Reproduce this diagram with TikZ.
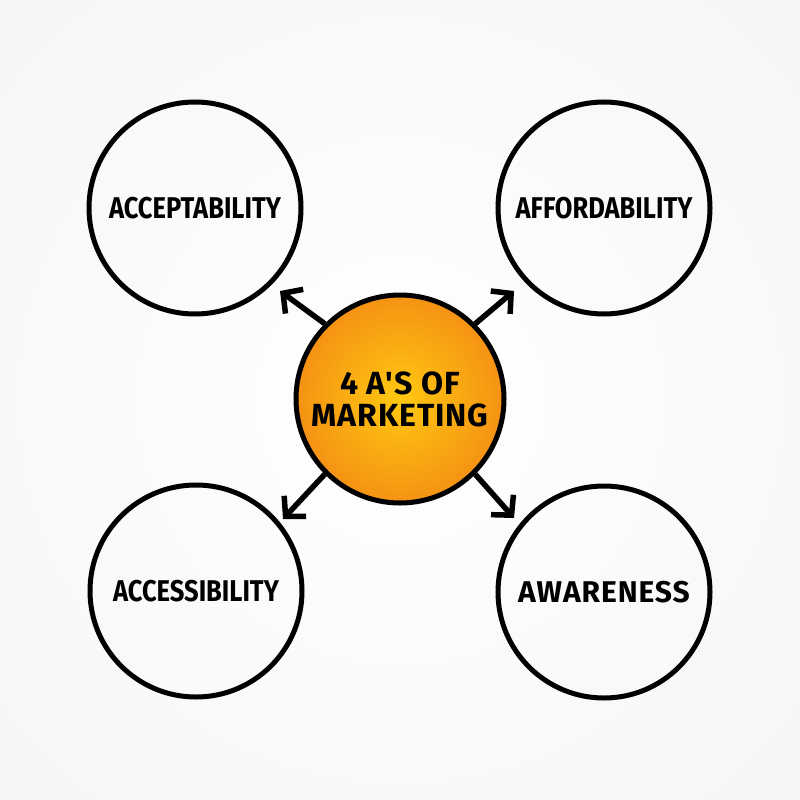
\documentclass[tikz,border=0pt]{standalone}
\usepackage{fontspec}
\newfontfamily\handfont{Fira Sans}[FakeStretch=0.85]
\newfontfamily\handwide{Fira Sans}[LetterSpace=3]
\usetikzlibrary{arrows.meta,positioning}

\definecolor{mkouter}{RGB}{245,146,20}
\definecolor{mkinner}{RGB}{255,200,16}
\definecolor{bgedge}{RGB}{236,236,236}

\tikzset{
    acircle/.style={circle, draw=black, line width=5pt, minimum size=212pt,
        font=\handfont\bfseries\fontsize{30}{34}\selectfont},
    mkcircle/.style={circle, draw=black, line width=5pt, minimum size=208pt,
        inner color=mkinner, outer color=mkouter, align=center,
        font=\handwide\bfseries\fontsize{32}{32}\selectfont},
    aarrow/.style={line width=5.5pt, -{Straight Barb[length=14pt, width=30pt, line width=5.5pt]}}
}

\begin{document}
\begin{tikzpicture}[x=1pt, y=-1pt]
    \useasboundingbox (0,0) rectangle (800,800);
    \begin{scope}
        \clip (0,0) rectangle (800,800);
        \shade[inner color=white, outer color=bgedge] (400,400) circle (1130);
    \end{scope}

    % Define nodes
    \node[mkcircle] (MK) at (400, 399) {4 A'S OF\\MARKETING};
    \node[acircle] (ACP) at (195, 208) {ACCEPTABILITY};
    \node[acircle] (AFF) at (604, 208) {AFFORDABILITY};
    \node[acircle] (ACS) at (196, 591) {ACCESSIBILITY};
    \node[acircle, font=\handwide\bfseries\fontsize{30}{34}\selectfont] (AWR) at (604, 592) {AWARENESS};

    % Arrow tips
    \coordinate (T1) at (280, 291);
    \coordinate (T2) at (514, 291);
    \coordinate (T3) at (283, 519);
    \coordinate (T4) at (514, 518);

    \draw[aarrow] (MK.135) -- (T1);
    \draw[aarrow] (MK.45) -- (T2);
    \draw[aarrow] (MK.225) -- (T3);
    \draw[aarrow] (MK.315) -- (T4);
\end{tikzpicture}
\end{document}
